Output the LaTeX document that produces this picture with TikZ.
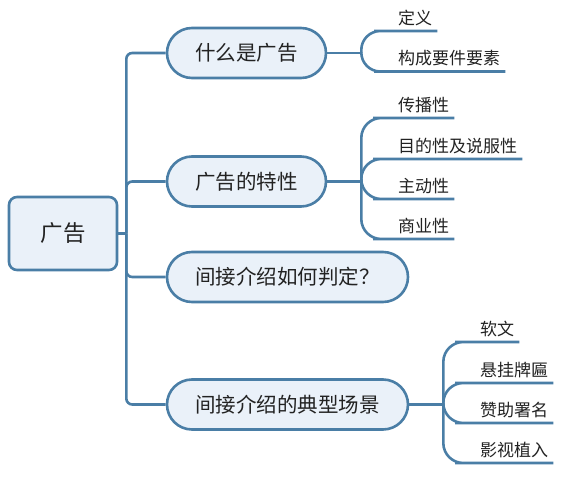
\documentclass[tikz,border=0pt]{standalone}
\usepackage{fontspec}
\setmainfont{Noto Sans CJK SC}
\definecolor{edge}{HTML}{4A7EA6}
\definecolor{boxfill}{HTML}{EAF1F9}
\definecolor{txt}{HTML}{222222}
\begin{document}
\begin{tikzpicture}[x=1pt,y=-1pt,
  conn/.style={draw=edge,line width=2.6pt},
  rootbox/.style={draw=edge,fill=boxfill,line width=2.6pt,rounded corners=8pt,minimum width=108pt,minimum height=73pt,font=\fontsize{22.5}{26}\selectfont,text=txt,inner sep=0pt},
  topic/.style={draw=edge,fill=boxfill,line width=2.6pt,rounded corners=25pt,minimum height=50pt,font=\fontsize{20.5}{24}\selectfont,text=txt,inner sep=0pt},
  leaf/.style={anchor=south west,font=\fontsize{17}{20}\selectfont,text=txt,inner xsep=5pt,inner ysep=0pt,minimum height=26pt}]
\useasboundingbox (0,0) rectangle (565,481);
% root
\node[rootbox] (root) at (63,233.5) {广告};
% topics
\node[topic,minimum width=159pt] (t1) at (246.5,53) {什么是广告};
\node[topic,minimum width=159pt] (t2) at (246.5,181.5) {广告的特性};
\node[topic,minimum width=241pt] (t3) at (287.5,277) {间接介绍如何判定？};
\node[topic,minimum width=241pt] (t4) at (287.5,404.5) {间接介绍的典型场景};
% trunk
\coordinate (tr) at ([xshift=8pt]root.east);
\draw[conn] (root.east) -- (tr);
\foreach \t in {t1,t2,t3,t4}{
  \draw[conn,rounded corners=6pt] (tr) |- (\t.west);
}
% leaves of t1
\node[leaf] (a1) at (393,31) {定义};
\node[leaf] (a2) at (393,71.5) {构成要件要素};
\coordinate (f1) at ([xshift=34pt]t1.east);
\draw[conn] (t1.east) -- (f1);
\foreach \l in {a1,a2}{
  \draw[conn,rounded corners=19pt] (f1) |- (\l.south west) -- (\l.south east);
}
% leaves of t2
\node[leaf] (b1) at (393,118) {传播性};
\node[leaf] (b2) at (393,159) {目的性及说服性};
\node[leaf] (b3) at (393,199) {主动性};
\node[leaf] (b4) at (393,239) {商业性};
\coordinate (f2) at ([xshift=34pt]t2.east);
\draw[conn] (t2.east) -- (f2);
\foreach \l in {b1,b2,b3,b4}{
  \draw[conn,rounded corners=20pt] (f2) |- (\l.south west) -- (\l.south east);
}
% leaves of t4
\node[leaf] (c1) at (475,342) {软文};
\node[leaf] (c2) at (475,383) {悬挂牌匾};
\node[leaf] (c3) at (475,423) {赞助署名};
\node[leaf] (c4) at (475,463) {影视植入};
\coordinate (f4) at ([xshift=34pt]t4.east);
\draw[conn] (t4.east) -- (f4);
\foreach \l in {c1,c2,c3,c4}{
  \draw[conn,rounded corners=20pt] (f4) |- (\l.south west) -- (\l.south east);
}
\end{tikzpicture}
\end{document}
